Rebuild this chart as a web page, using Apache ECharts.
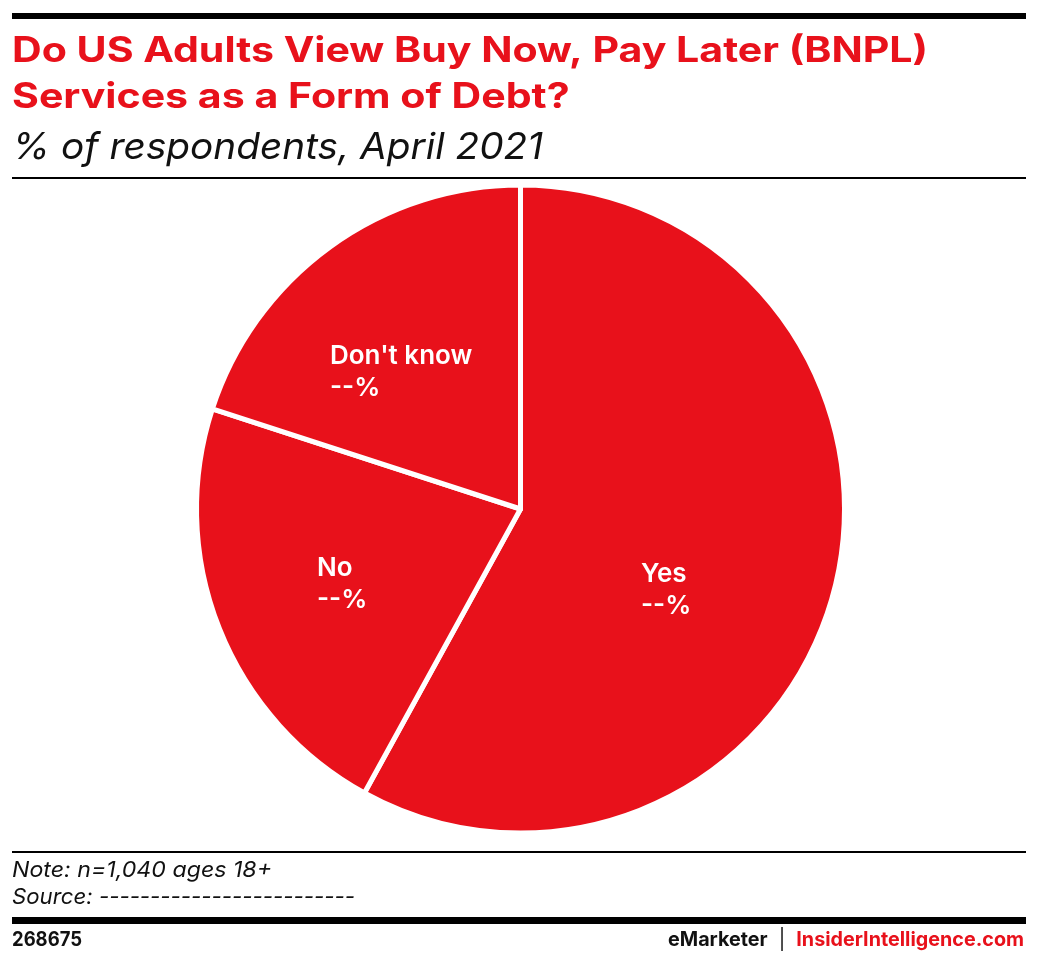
<!DOCTYPE html>
<html><head><meta charset="utf-8">
<script src="https://cdn.jsdelivr.net/npm/echarts@6/dist/echarts.min.js"></script>
<style>html,body{margin:0;padding:0;background:#fff}#c{width:1038px;height:967px}</style>
</head><body><div id="c"></div>
<script>
const categories = ["Yes", "No", "Don't know"];
const values = [58, 22, 20];
const labelTexts = ["--%", "--%", "--%"];
const titleLines = ["Do US Adults View Buy Now, Pay Later (BNPL)", "Services as a Form of Debt?"];
const subtitle = "% of respondents, April 2021";
const noteText = "Note: n=1,040 ages 18+";
const sourceText = "Source: -------------------------";
const chartId = "268675";

const RED = '#e8111b';
const labelPos = [[641, 558], [317, 552], [330, 340]];
const FF = 'Inter, "Open Sans", sans-serif';
const ctx = document.createElement('canvas').getContext('2d');
function fitScale(text, font, w) { ctx.font = font; return w / ctx.measureText(text).width; }
function txt(x, y, text, font, fill, targetW, align) {
  const sx = targetW ? fitScale(text, font, targetW) : 1;
  return {type: 'text', x: x, y: y, scaleX: sx,
    style: {x: 0, y: 0, text: text, font: font, fill: fill, textAlign: align || 'left', textVerticalAlign: 'top'}};
}
const titleFont = 'bold 35px ' + FF;
const titleScale = fitScale(titleLines[0], titleFont, 916);
const chart = echarts.init(document.getElementById('c'), null, {renderer: 'canvas'});
const eFont = 'bold 20px ' + FF, sFont = '20px ' + FF;
const rightStr = ['eMarketer', '  |  ', 'InsiderIntelligence.com'];
ctx.font = eFont; let rw = ctx.measureText(rightStr[0]).width + ctx.measureText(rightStr[2]).width;
ctx.font = sFont; rw += ctx.measureText(rightStr[1]).width;
chart.setOption({
  animation: false,
  graphic: [
    {type: 'rect', shape: {x: 12, y: 13, width: 1014, height: 6}, style: {fill: '#000'}},
    {type: 'text', x: 12, y: 28, scaleX: titleScale, style: {x: 0, y: 0, text: titleLines.join('\n'), fill: RED, font: titleFont, lineHeight: 46, textVerticalAlign: 'top'}},
    txt(12, 129, subtitle, 'italic 37px ' + FF, '#111', 531),
    {type: 'rect', shape: {x: 12, y: 177, width: 1014, height: 2}, style: {fill: '#000'}},
    {type: 'rect', shape: {x: 12, y: 851, width: 1014, height: 2}, style: {fill: '#000'}},
    txt(12, 859, noteText, 'italic 22px ' + FF, '#111', 260),
    txt(12, 886, sourceText, 'italic 22px ' + FF, '#111', 343),
    {type: 'rect', shape: {x: 12, y: 917, width: 1014, height: 7}, style: {fill: '#000'}},
    txt(12, 930, chartId, 'bold 20px ' + FF, '#111', 70),
    {type: 'text', x: 1024, y: 930, scaleX: 356 / rw, style: {
      x: 0, y: 0, textAlign: 'right', textVerticalAlign: 'top',
      text: '{e|' + rightStr[0] + '}{s|' + rightStr[1] + '}{i|' + rightStr[2] + '}',
      rich: {
        e: {fill: '#111', font: eFont},
        s: {fill: '#111', font: sFont},
        i: {fill: RED, font: eFont}
      }
    }}
  ],
  series: [{
    type: 'pie',
    center: [520.5, 509],
    radius: [0, 324],
    startAngle: 90,
    clockwise: true,
    silent: true,
    data: categories.map((c, i) => ({name: c, value: values[i]})),
    itemStyle: {color: RED, borderColor: '#fff', borderWidth: 5},
    label: {
      show: true, position: 'inside',
      formatter: p => p.name + '\n' + labelTexts[p.dataIndex],
      color: '#fff', fontFamily: FF, fontWeight: 600, fontSize: 26,
      lineHeight: 32, align: 'left', verticalAlign: 'top'
    },
    labelLine: {show: false},
    labelLayout: p => ({x: labelPos[p.dataIndex][0], y: labelPos[p.dataIndex][1], align: 'left', verticalAlign: 'top'})
  }]
});
</script></body></html>
